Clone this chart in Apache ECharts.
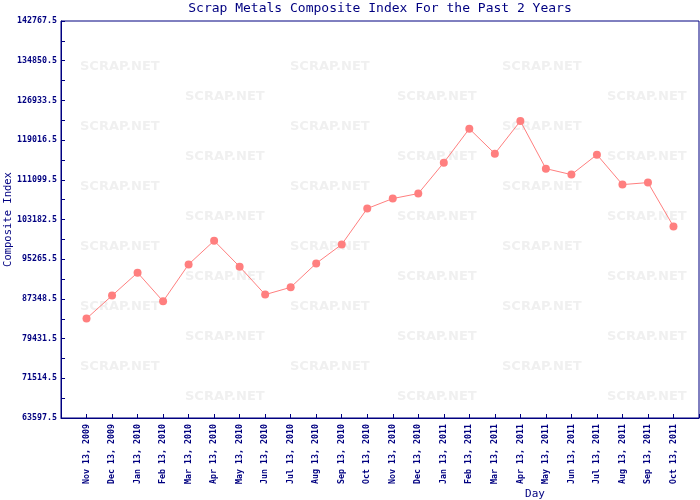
<!DOCTYPE html>
<html>
<head>
<meta charset="utf-8">
<script src="https://cdn.jsdelivr.net/npm/echarts@6/dist/echarts.min.js"></script>
<style>html,body{margin:0;padding:0;background:#fff}#c{width:700px;height:500px}</style>
</head>
<body>
<div id="c"></div>
<script>
const categories = ['Nov 13, 2009','Dec 13, 2009','Jan 13, 2010','Feb 13, 2010','Mar 13, 2010','Apr 13, 2010','May 13, 2010','Jun 13, 2010','Jul 13, 2010','Aug 13, 2010','Sep 13, 2010','Oct 13, 2010','Nov 13, 2010','Dec 13, 2010','Jan 13, 2011','Feb 13, 2011','Mar 13, 2011','Apr 13, 2011','May 13, 2011','Jun 13, 2011','Jul 13, 2011','Aug 13, 2011','Sep 13, 2011','Oct 13, 2011'];
const compositeIndex = [83430,88005,92580,86871,94231,98946,93774,88204,89657,94430,98210,105371,107360,108355,114521,121285,116312,122816,113328,112134,116112,110145,110542,101790];
const yMin = 63597.5;
const yMax = 142767.5;
const yStep = 7917;

const navy = '#000080';
const mono = '"DejaVu Sans Mono", "Liberation Mono", monospace';

// padded category axis so points sit one step inside each end
const axisCats = [''].concat(categories, ['']);
const seriesData = [null].concat(compositeIndex.map(v => v - yMin), [null]);

// watermark texts
const marks = [];
for (let r = 0; r < 12; r++) {
  const y = 67 + r * 30;
  const xs = (r % 2 === 0) ? [80, 290, 502] : [185, 397, 607];
  xs.forEach(x => marks.push({
    type: 'text', x: x, y: y, z: -10, silent: true,
    style: { text: 'SCRAP.NET', fill: '#f0f0f0', font: 'bold 13px "DejaVu Sans", sans-serif', textVerticalAlign: 'middle' }
  }));
}

const chart = echarts.init(document.getElementById('c'), null, { renderer: 'canvas' });
chart.setOption({
  animation: false,
  backgroundColor: '#ffffff',
  grid: { left: 61, right: 1, top: 21, bottom: 82, show: true, borderColor: navy, borderWidth: 1, containLabel: false, outerBoundsMode: 'none' },
  graphic: marks.concat([
    { type: 'text', x: 380, y: 9, style: { text: 'Scrap Metals Composite Index For the Past 2 Years', fill: navy, font: '13px ' + mono, textAlign: 'center', textVerticalAlign: 'middle' } },
    { type: 'text', x: 535, y: 494, style: { text: 'Day', fill: navy, font: '11px ' + mono, textAlign: 'center', textVerticalAlign: 'middle' } }
  ]),
  xAxis: {
    type: 'category',
    data: axisCats,
    boundaryGap: false,
    axisLine: { lineStyle: { color: navy, width: 1 } },
    axisTick: { show: true, inside: true, length: 4, interval: 0, lineStyle: { color: navy } },
    axisLabel: { interval: 0, rotate: 90, margin: 6, color: navy, fontFamily: mono, fontWeight: 'bold', fontSize: 8.3 },
    splitLine: { show: false }
  },
  yAxis: {
    type: 'value',
    min: 0,
    max: yMax - yMin,
    interval: yStep,
    name: 'Composite Index',
    nameLocation: 'middle',
    nameGap: 47,
    nameMoveOverlap: false,
    nameTextStyle: { color: navy, fontFamily: mono, fontSize: 10.5 },
    axisLine: { show: true, lineStyle: { color: navy, width: 1 } },
    axisTick: { show: true, inside: true, length: 4, lineStyle: { color: navy } },
    minorTick: { show: true, splitNumber: 2, length: 4, lineStyle: { color: navy } },
    axisLabel: { margin: 4, color: navy, fontFamily: mono, fontWeight: 'bold', fontSize: 8.3, formatter: v => (v + yMin).toFixed(1) },
    splitLine: { show: false }
  },
  series: [{
    type: 'line',
    data: seriesData,
    symbol: 'circle',
    symbolSize: 8,
    lineStyle: { color: '#ff7f7f', width: 1 },
    itemStyle: { color: '#ff7f7f' }
  }]
});
</script>
</body>
</html>
